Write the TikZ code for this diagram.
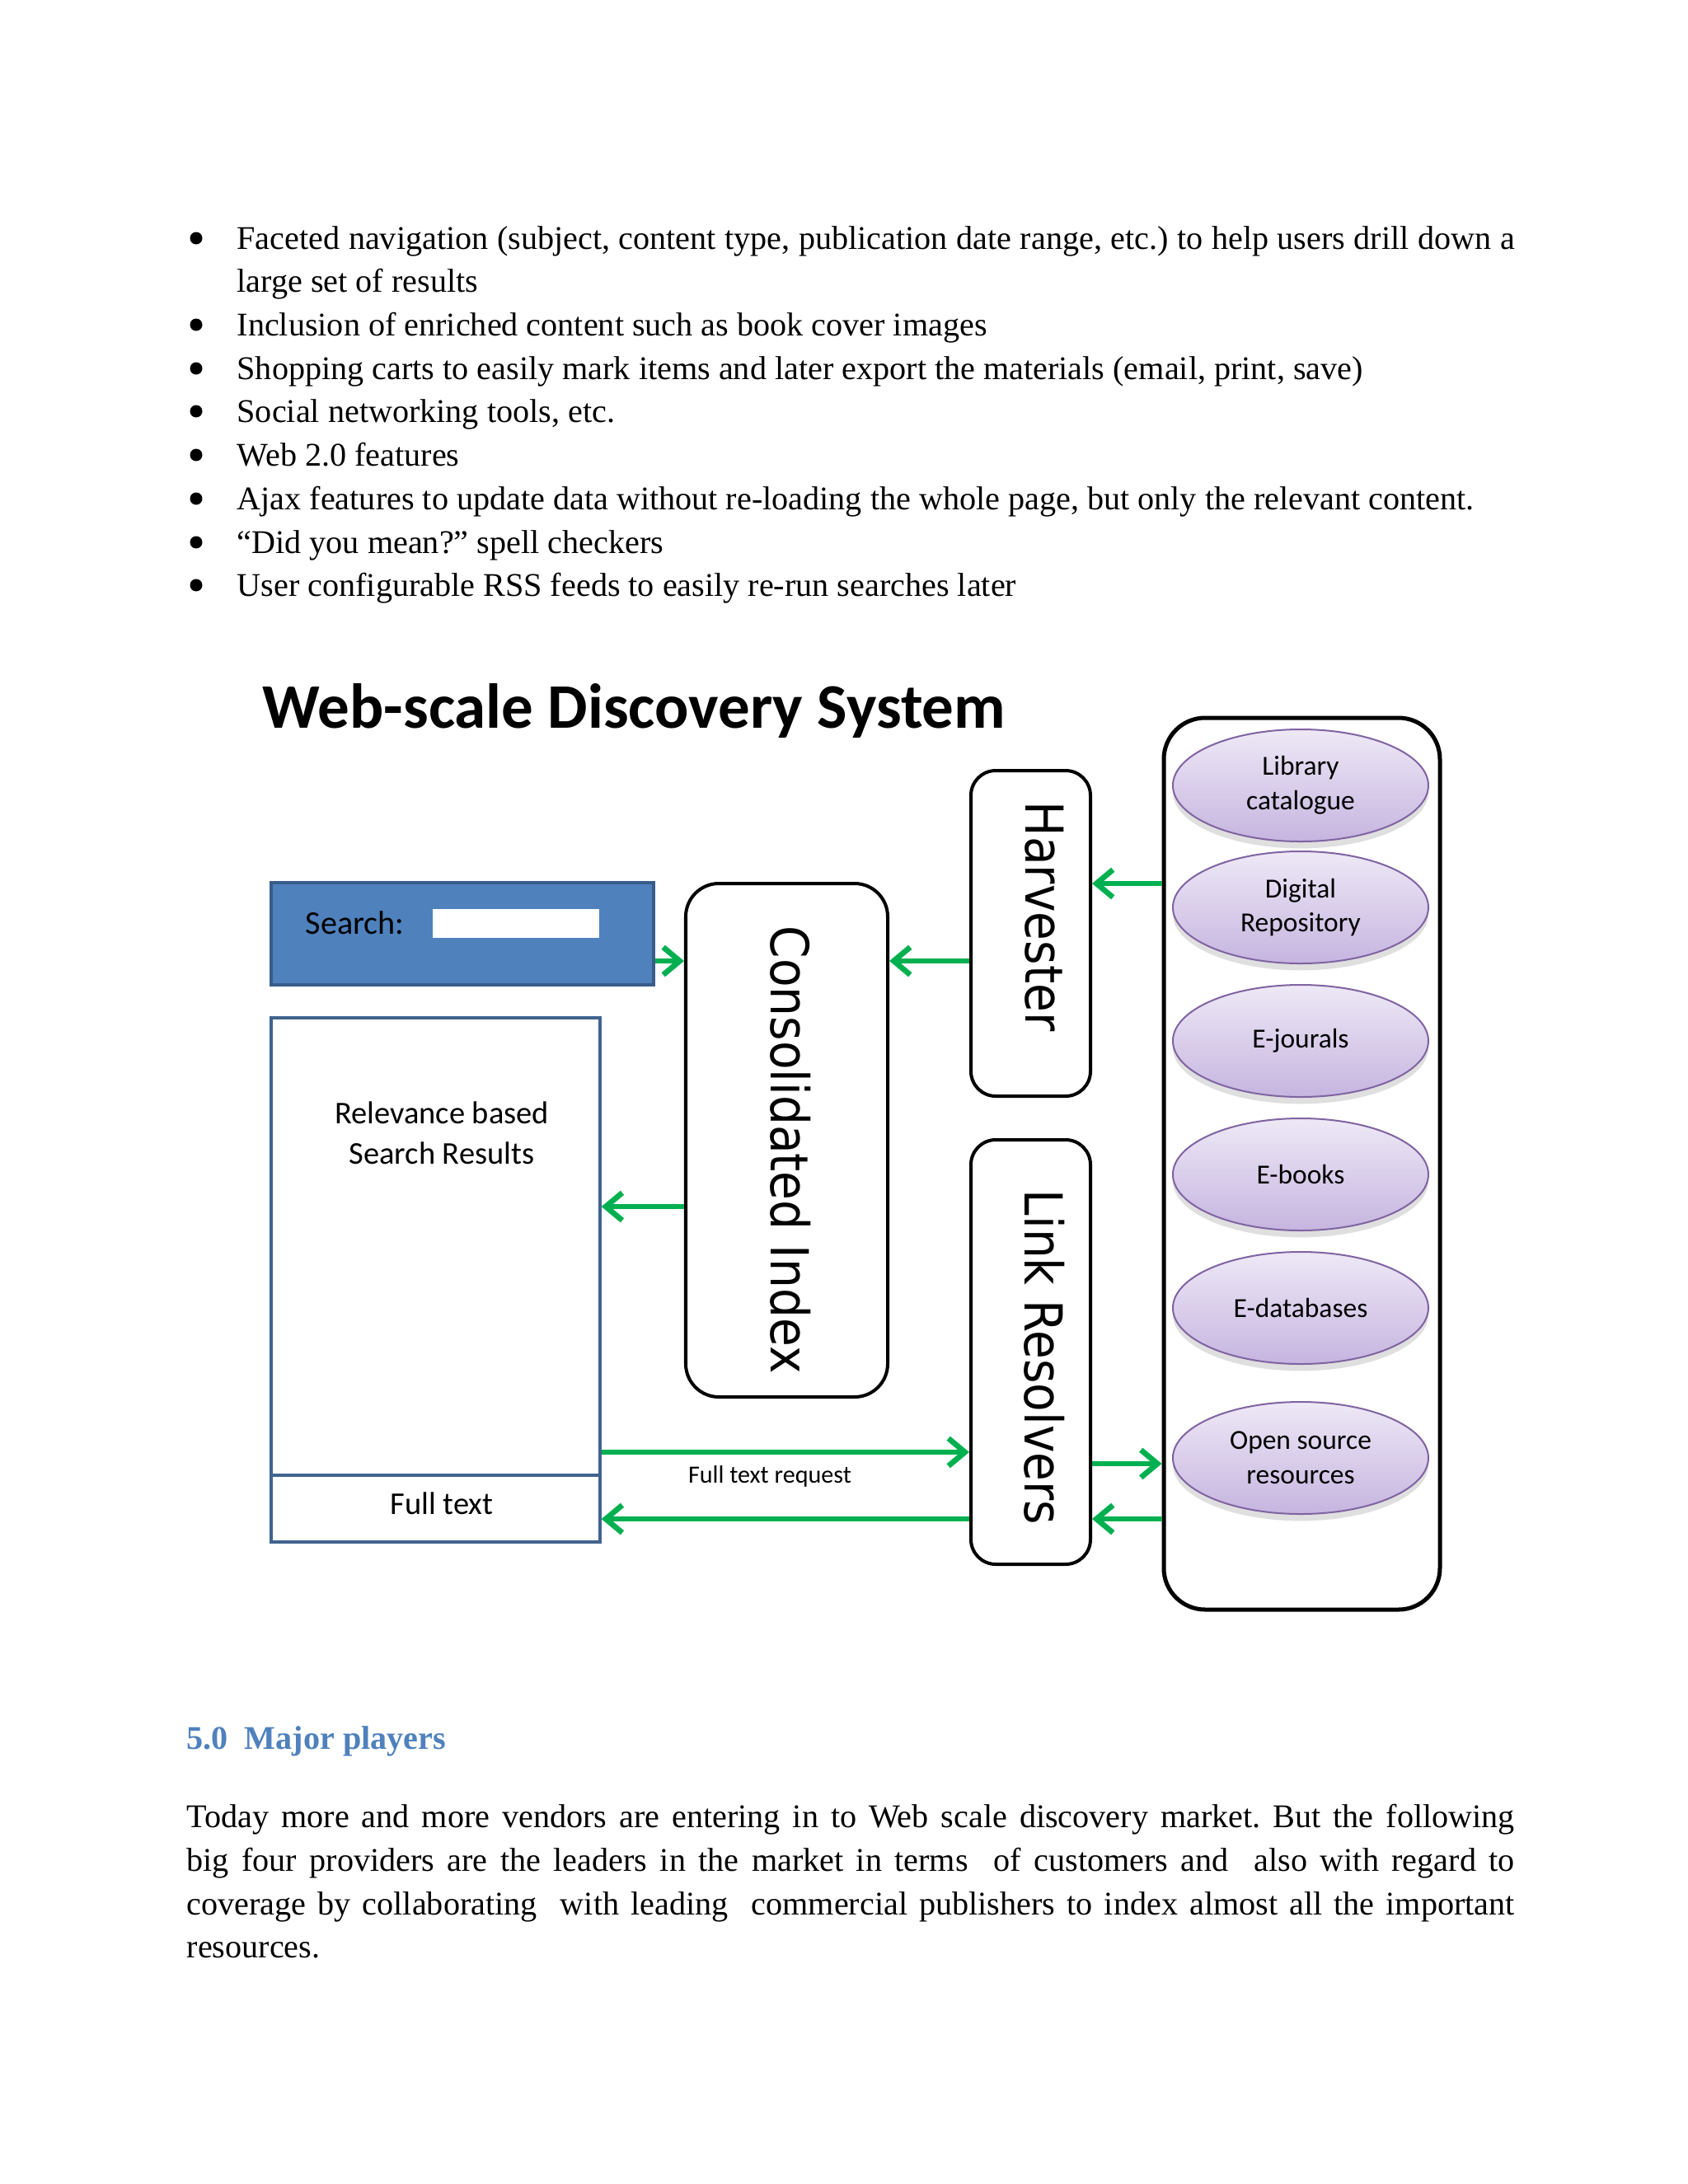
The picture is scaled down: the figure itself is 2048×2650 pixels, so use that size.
\documentclass[tikz,border=0pt]{standalone}
\usepackage{fontspec}
\setmainfont{Liberation Serif}
\newfontfamily\calibri{Carlito}
\newfontfamily\dejavu{DejaVu Sans}
\usepackage{tikz}
\usetikzlibrary{arrows.meta,shapes.geometric,shadows}
\frenchspacing

\definecolor{arrowgreen}{HTML}{00B050}
\definecolor{searchblue}{HTML}{4F81BD}
\definecolor{searchedge}{HTML}{385D8A}
\definecolor{resultedge}{HTML}{41638F}
\definecolor{srcedge}{HTML}{8064A2}
\definecolor{srctop}{HTML}{EEE8F6}
\definecolor{srcbottom}{HTML}{C6B5E0}
\definecolor{headblue}{HTML}{4F81BD}

\newlength\pxu
\setlength\pxu{0.29883pt}
\newcommand\srcfont{\calibri\fontsize{10}{12.5}\selectfont}
\newcommand\vfont{\dejavu\fontsize{19}{22}\selectfont}
\newcommand\bodyfont{\fontsize{12}{14}\selectfont}

\begin{document}
\begin{tikzpicture}[x=0.29883pt,y=-0.29883pt,
    body line/.style={anchor=base west,inner sep=0pt,font=\bodyfont},
    dot/.style={circle,fill,inner sep=0pt,minimum size=15*\pxu},
    index box/.style={draw,line width=1.2pt,rounded corners=9pt,inner sep=0pt,minimum width=145*\pxu},
    vlabel/.style={rotate=-90,font=\vfont,inner sep=0pt},
    source/.style={ellipse,draw=srcedge,line width=0.6pt,top color=srctop,bottom color=srcbottom,
      minimum width=310*\pxu,minimum height=136*\pxu,inner sep=0pt,align=center,font=\srcfont,
      drop shadow={opacity=0.25,shadow xshift=0pt,shadow yshift=-2.5pt}},
    flow/.style={draw=arrowgreen,line width=2pt,-{Straight Barb[length=6pt,width=10pt]}}]
  \fill[white] (0,0) rectangle (2048,2650);
  \useasboundingbox (0,0) rectangle (2048,2650);

  % bullet list
  \node[dot] (d1) at (238,289) {};
  \node[body line] (l1) at (287,302) {\makebox[463.2pt][s]{Faceted navigation (subject, content type, publication date range, etc.) to help users drill down a}};
  \node[body line] (l2) at (287,354) {large set of results};
  \node[dot] (d2) at (238,394) {};
  \node[body line] (l3) at (287,407) {Inclusion of enriched content such as book cover images};
  \node[dot] (d3) at (238,447) {};
  \node[body line] (l4) at (287,460) {Shopping carts to easily mark items and later export the materials (email, print, save)};
  \node[dot] (d4) at (238,499) {};
  \node[body line] (l5) at (287,512) {Social networking tools, etc.};
  \node[dot] (d5) at (238,552) {};
  \node[body line] (l6) at (287,565) {Web 2.0 features};
  \node[dot] (d6) at (238,605) {};
  \node[body line] (l7) at (287,618) {Ajax features to update data without re-loading the whole page, but only the relevant content.};
  \node[dot] (d7) at (238,658) {};
  \node[body line] (l8) at (287,671) {“Did you mean?” spell checkers};
  \node[dot] (d8) at (238,710) {};
  \node[body line] (l9) at (287,723) {User configurable RSS feeds to easily re-run searches later};

  % diagram
  \node[anchor=base west,inner sep=0pt,font=\calibri\bfseries\fontsize{23}{28}\selectfont] (title) at (318,883) {Web-scale Discovery System};

  \node[draw=searchedge,fill=searchblue,line width=1pt,minimum width=464*\pxu,minimum height=124*\pxu] (search) at (561,1133) {};
  \node[anchor=west,inner sep=0pt,font=\calibri\fontsize{12}{14}\selectfont] (searchlbl) at (370,1120) {Search:};
  \node[fill=white,inner sep=0pt,minimum width=202*\pxu,minimum height=35*\pxu] (searchfield) at (626,1120) {};

  \node[draw=resultedge,fill=white,line width=1pt,minimum width=399*\pxu,minimum height=555*\pxu] (results) at (528.5,1512.5) {};
  \node[align=center,font=\calibri\fontsize{11.5}{14.6}\selectfont] (reslbl) at (536,1375) {Relevance based\\Search Results};
  \node[draw=resultedge,fill=white,line width=1pt,minimum width=399*\pxu,minimum height=81*\pxu] (fulltext) at (528.5,1830.5) {};
  \node[font=\calibri\fontsize{11.5}{14}\selectfont] (ftlbl) at (536,1824) {Full text};

  \node[index box,minimum width=245*\pxu,minimum height=623*\pxu,rounded corners=12pt] (index) at (954.5,1383.5) {};
  \node[vlabel] (indexlbl) at (959,1395) {\scalebox{0.89}[1]{Consolidated Index}};
  \node[index box,minimum height=395*\pxu] (harv) at (1250.5,1132.5) {};
  \node[vlabel] (harvlbl) at (1267,1112) {\scalebox{0.89}[1]{Harvester}};
  \node[index box,minimum height=515*\pxu] (linkres) at (1250.5,1640.5) {};
  \node[vlabel] (linkreslbl) at (1267,1647) {\scalebox{0.89}[1]{Link Resolvers}};

  \node[draw,line width=1.5pt,rounded corners=15pt,minimum width=335*\pxu,minimum height=1082*\pxu] (outer) at (1579.5,1412) {};
  \node[source] (catalogue) at (1578,953) {Library\\catalogue};
  \node[source] (repository) at (1578,1101) {Digital\\Repository};
  \node[source] (journals) at (1578,1263) {E-jourals};
  \node[source] (books) at (1578,1425) {E-books};
  \node[source] (databases) at (1578,1587) {E-databases};
  \node[source] (opensrc) at (1578,1769) {Open source\\resources};

  \draw[flow] (outer.west |- 0,1072) -- (harv.east |- 0,1072);
  \draw[flow] (harv.west |- 0,1166) -- (index.east |- 0,1166);
  \draw[flow] (search.east |- 0,1166) -- (index.west |- 0,1166);
  \draw[flow] (index.west |- 0,1464) -- (results.east |- 0,1464);
  \draw[flow] (results.east |- 0,1762) -- (linkres.west |- 0,1762);
  \draw[flow] (linkres.west |- 0,1843) -- (fulltext.east |- 0,1843);
  \draw[flow] (linkres.east |- 0,1776) -- (outer.west |- 0,1776);
  \draw[flow] (outer.west |- 0,1843) -- (linkres.east |- 0,1843);
  \node[font=\calibri\fontsize{9}{11}\selectfont] (reqlbl) at (934,1791) {Full text request};

  % next section
  \node[anchor=base west,inner sep=0pt,font=\bodyfont\bfseries,text=headblue] (head) at (226,2122) {5.0\ \ Major players};
  \node[body line] (p1) at (226,2217) {\makebox[481.4pt][s]{Today more and more vendors are entering in to Web scale discovery market. But the following}};
  \node[body line] (p2) at (226,2270) {\makebox[481.4pt][s]{big four providers are the leaders in the market in terms~ of customers and~ also with regard to}};
  \node[body line] (p3) at (226,2323) {\makebox[481.4pt][s]{coverage by collaborating~ with leading~ commercial publishers to index almost all the important}};
  \node[body line] (p4) at (226,2375) {resources.};
\end{tikzpicture}
\end{document}
